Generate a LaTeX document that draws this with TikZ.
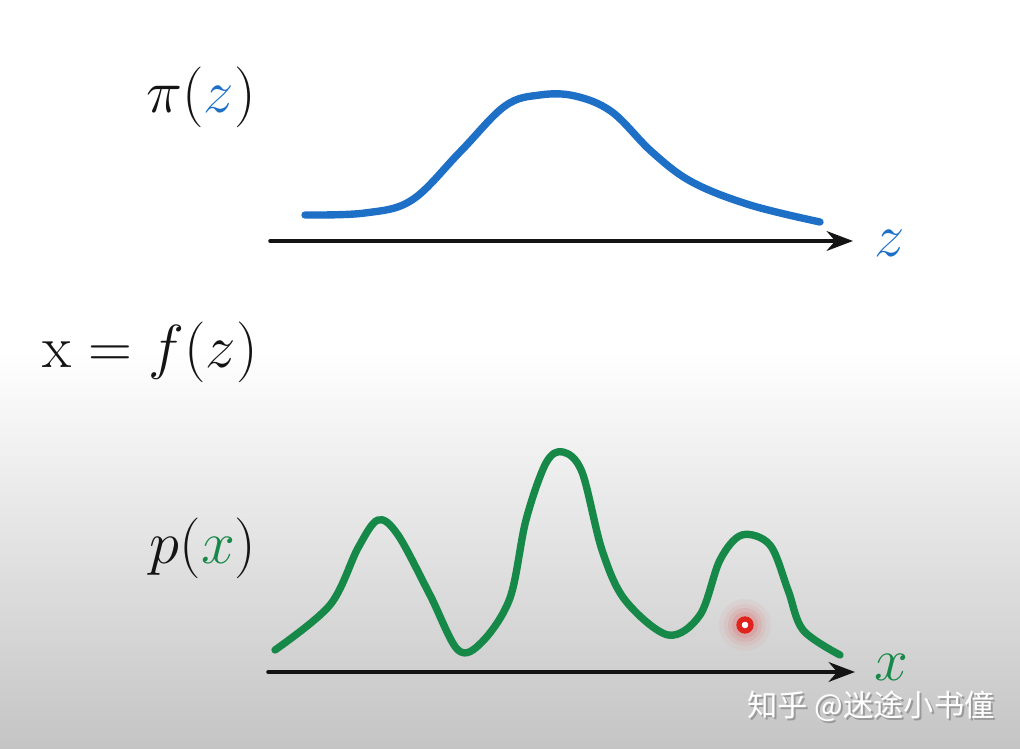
\documentclass[tikz,border=0pt]{standalone}
\usepackage{amsmath}
\usepackage{fontspec}
\usetikzlibrary{arrows.meta}
\newfontfamily\cjk{Noto Sans CJK SC}
\definecolor{latc}{RGB}{30,112,198}
\definecolor{obsc}{RGB}{22,136,72}
\definecolor{dotc}{RGB}{225,35,30}
\definecolor{inkc}{RGB}{20,20,20}

\begin{document}
\begin{tikzpicture}[x=0.01cm, y=-0.01cm, >=Stealth, line cap=round,
    lbl/.style={inkc, font=\fontsize{17}{20}\selectfont},
    axis/.style={->, inkc, line width=1pt},
    dens/.style={line width=2.1pt, line join=round}]
  % canvas: white top, fading to grey at the bottom
  \fill[white] (0,0) rectangle (1020,749);
  \shade[top color=white, bottom color=black!23] (0,350) rectangle (1020,749);
  \useasboundingbox (0,0) rectangle (1020,749);

  % latent density pi(z)
  \node[lbl] (piz) at (201,97) {$\pi(\textcolor{latc}{z})$};
  \coordinate (za) at (270,241);
  \coordinate (zb) at (853,241);
  \draw[axis] (za) -- (zb);
  \node[latc, anchor=west, font=\fontsize{17}{18}\selectfont] (zlab) at (862,243) {$z$};
  \draw[latc, dens] plot[smooth, tension=0.6] coordinates {
    (305,215) (365,213) (412,200) (460,152) (505,106) (540,95) (575,96)
    (612,112) (652,152) (692,182) (750,205) (820,222)};

  % the map
  \node[lbl] (map) at (150,352) {$\mathrm{x} = f(z)$};

  % data density p(x)
  \node[lbl] (px) at (203,548) {$p(\textcolor{obsc}{x})$};
  \coordinate (xa) at (268,672);
  \coordinate (xb) at (855,672);
  \draw[axis] (xa) -- (xb);
  \node[obsc, anchor=west, font=\fontsize{17}{18}\selectfont] (xlab) at (862,667) {$x$};
  \draw[obsc, dens] plot[smooth, tension=0.55] coordinates {
    (275,650) (330,605) (358,548) (378,520) (398,535) (430,595) (458,650)
    (482,642) (510,598) (526,520) (546,463) (563,452) (582,472) (602,550)
    (625,600) (668,635) (700,615) (720,560) (742,535) (770,545) (788,590)
    (803,630) (840,655)};

  % a sample point
  \foreach \r/\o in {26/04, 21/06, 17/08, 13/11} {
    \fill[dotc, opacity=0.\o] (745,625) circle (\r);
  }
  \node[circle, draw=dotc, line width=1.5pt, fill=white, inner sep=0pt,
        minimum size=0.12cm] (samp) at (745,625) {};

  % watermark
  \node[black!40, anchor=west, font=\cjk\fontsize{8.6}{10}\selectfont] (wms) at (737,708) {知乎 @迷途小书僮};
  \node[white, anchor=west, font=\cjk\fontsize{8.6}{10}\selectfont] (wm) at (735,706) {知乎 @迷途小书僮};
\end{tikzpicture}
\end{document}
